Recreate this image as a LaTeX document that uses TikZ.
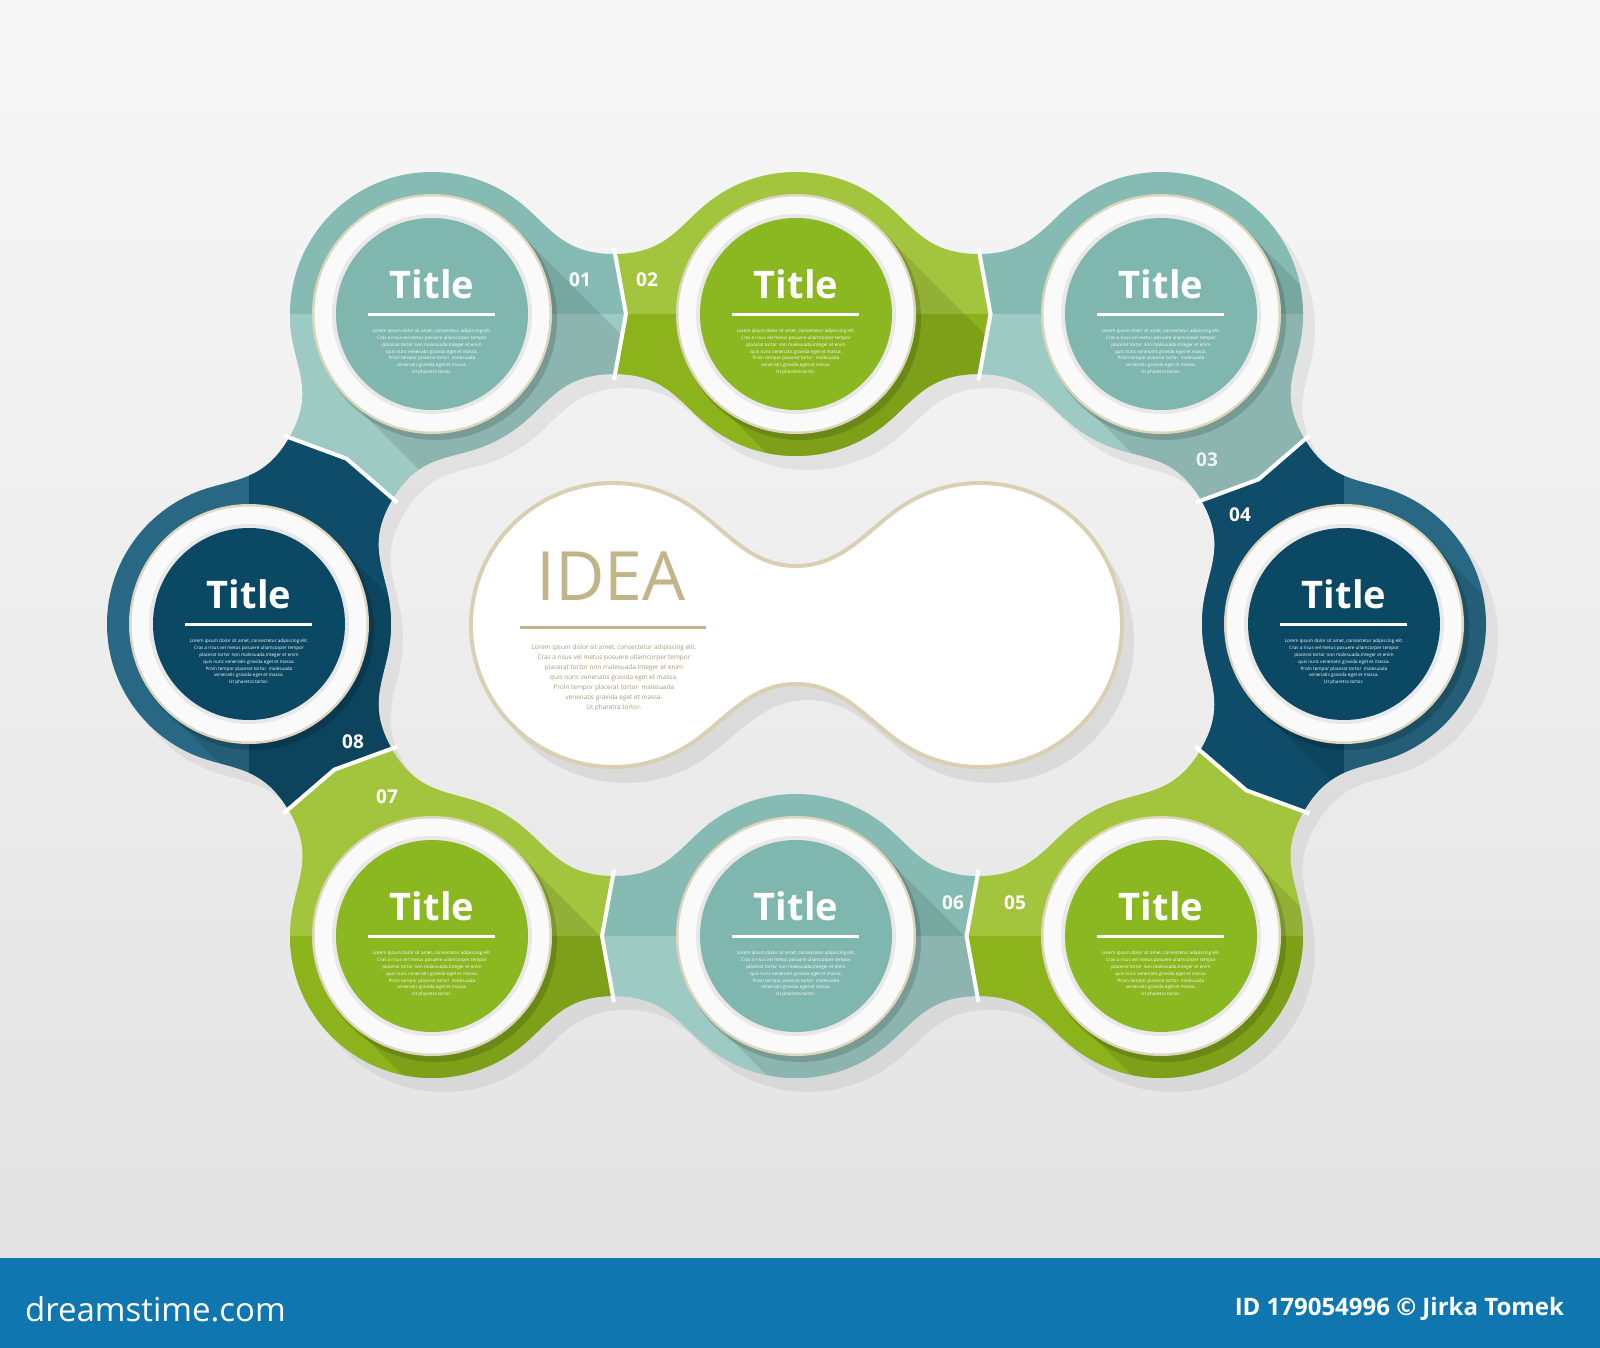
\documentclass[tikz,border=0pt]{standalone}
\usepackage{fontspec}
\setmainfont{Open Sans}
\usetikzlibrary{calc}
\definecolor{tealtop}{HTML}{86BBB3}
\definecolor{tealbot}{HTML}{9DCAC3}
\definecolor{tealdisc}{HTML}{7FB7AE}
\definecolor{greentop}{HTML}{A3C53D}
\definecolor{greenbot}{HTML}{8CB31B}
\definecolor{greendisc}{HTML}{8BB720}
\definecolor{navyout}{HTML}{286884}
\definecolor{navyin}{HTML}{0E4C69}
\definecolor{navydisc}{HTML}{0B4864}
\definecolor{ringedge}{HTML}{DDD5BC}
\definecolor{ideagold}{HTML}{C2B489}
\definecolor{ideaedge}{HTML}{D9D0B4}
\definecolor{barblue}{HTML}{0F76B0}
\newcommand{\rb}{142}
\newcommand{\alp}{50}
\newcommand{\halflink}[4]{($(#1)+(#2-\alp:\rb)$)
  .. controls ($(#1)+(#2-\alp:\rb)+(#2+90-\alp:35)$) and ($(#1)+(#2:#3-50)+(#2-90:60)$) ..
  ($(#1)+(#2:#3)+(#2-90:60)$) -- ($(#1)+(#2:#3+#4)$) -- ($(#1)+(#2:#3)+(#2+90:60)$)
  .. controls ($(#1)+(#2:#3-50)+(#2+90:60)$) and ($(#1)+(#2+\alp:\rb)+(#2-90+\alp:35)$) ..
  ($(#1)+(#2+\alp:\rb)$) -- (#1) -- cycle}
\newcommand{\blobpath}[5]{(#1) circle[radius=\rb] \halflink{#1}{#2}{#3}{12} \halflink{#1}{#4}{#5}{-12}}
\newcommand{\ideapath}{(694.45,-508.7) .. controls (727.2,-531.7) and (751,-566) .. (796,-566)
  .. controls (841,-566) and (865.8,-531.7) .. (898.55,-508.7)
  arc[start angle=125, end angle=-125, radius=142]
  .. controls (865.8,-718.3) and (841,-684) .. (796,-684)
  .. controls (751,-684) and (727.2,-718.3) .. (694.45,-741.3)
  arc[start angle=-55, end angle=-305, radius=142] -- cycle}
\newcommand{\loremtext}{Lorem ipsum dolor sit amet, consectetur adipiscing elit.\\
  Cras a risus vel metus posuere ullamcorper tempor\\
  placerat tortor non malesuada.Integer et enim\\
  quis nunc venenatis gravida eget et massa.\\
  Proin tempor placerat tortor \ malesuada\\
  venenatis gravida eget et massa.\\
  Ut pharetra tortor.}

\begin{document}
\begin{tikzpicture}[x=0.5pt,y=0.5pt,
  ttl/.style={text=white,font=\bfseries\fontsize{19}{19}\selectfont},
  lorem/.style={text=white,align=center,font=\fontsize{2.3}{3.4}\selectfont},
  num/.style={text=white,font=\bfseries\fontsize{9.5}{9.5}\selectfont},
  gap/.style={white,line width=2pt,line join=miter}]
\useasboundingbox (0,0) rectangle (1600,-1348);
\shade[top color=white!97!black,bottom color=white!89!black] (0,0) rectangle (1600,-1258);
\fill[barblue] (0,-1258) rectangle (1600,-1348);
\coordinate (n1) at (432,-314);
\coordinate (n2) at (796,-314);
\coordinate (n3) at (1161,-314);
\coordinate (n4) at (1344,-624);
\coordinate (n5) at (1161,-936);
\coordinate (n6) at (796,-936);
\coordinate (n7) at (432,-936);
\coordinate (n8) at (249,-624);
\foreach \n/\ao/\lo/\ai/\li in {n1/0/182/239.44/180,n2/0/182.5/180/182,n3/-59.44/180/180/182.5,
  n4/239.61/180.9/120.56/180,n5/180/182.5/59.61/180.9,n6/180/182/0/182.5,
  n7/120.39/180.9/0/182,n8/59.44/180/-59.61/180.9}
  \fill[black,opacity=.06,transform canvas={shift={(6pt,-7pt)}}] \blobpath{\n}{\ao}{\lo}{\ai}{\li};
\foreach \n/\ao/\lo/\ai/\li/\ca/\cb/\tx/\ty/\ux/\uy in {
  n1/0/182/239.44/180/tealtop/tealbot/-300/0/300/-300,
  n2/0/182.5/180/182/greentop/greenbot/-300/0/300/-300,
  n3/-59.44/180/180/182.5/tealtop/tealbot/-300/0/300/-300,
  n4/239.61/180.9/120.56/180/navyout/navyin/-300/300/0/-300,
  n5/180/182.5/59.61/180.9/greentop/greenbot/-300/0/300/-300,
  n6/180/182/0/182.5/tealtop/tealbot/-300/0/300/-300,
  n7/120.39/180.9/0/182/greentop/greenbot/-300/0/300/-300,
  n8/59.44/180/-59.61/180.9/navyout/navyin/0/300/300/-300}
{
  \fill[\ca] \blobpath{\n}{\ao}{\lo}{\ai}{\li};
  \begin{scope}
    \clip \blobpath{\n}{\ao}{\lo}{\ai}{\li};
    \fill[\cb] ($(\n)+(\tx,\ty)$) rectangle ($(\n)+(\ux,\uy)$);
    \fill[black,opacity=.1] ($(\n)+(45:119)$) -- ($(\n)+(225:119)$) -- ($(\n)+(225:119)+(-45:420)$)
      -- ($(\n)+(45:119)+(-45:420)$) -- cycle;
  \end{scope}
}
\foreach \n/\ao/\lo in {n1/0/182,n2/0/182.5,n3/-59.44/180,n4/239.61/180.9,
  n5/180/182.5,n6/180/182,n7/120.39/180.9,n8/59.44/180}
  \draw[gap] ($(\n)+(\ao:\lo)+(\ao+90:66)$) -- ($(\n)+(\ao:\lo+12)$) -- ($(\n)+(\ao:\lo)+(\ao-90:66)$);
\foreach \n/\cd/\k in {n1/tealdisc/1,n2/greendisc/2,n3/tealdisc/3,n4/navydisc/4,
  n5/greendisc/5,n6/tealdisc/6,n7/greendisc/7,n8/navydisc/8}
{
  \fill[black,opacity=.15] ($(\n)+(4,-5)$) circle[radius=121];
  \fill[ringedge] (\n) circle[radius=120];
  \fill[white!98!black] (\n) circle[radius=117.5];
  \fill[black!9] (\n) circle[radius=100];
  \fill[\cd] (\n) circle[radius=96];
  \node[ttl] (t\k) at ($(\n)+(0,30)$) {Title};
  \draw[white,line width=1.5pt] ($(\n)+(-64,0)$) -- ($(\n)+(63,0)$);
  \node[lorem] (l\k) at ($(\n)+(0,-38)$) {\loremtext};
}
\node[num] (k1) at (580,-280) {01};
\node[num] (k2) at (647,-280) {02};
\node[num,opacity=.85] (k3) at (1207,-460) {03};
\node[num] (k4) at (1240,-515) {04};
\node[num] (k5) at (1015,-903) {05};
\node[num] (k6) at (953,-903) {06};
\node[num] (k7) at (387,-797) {07};
\node[num] (k8) at (353,-742) {08};
\fill[black,opacity=.07,transform canvas={shift={(6pt,-8pt)}}] \ideapath;
\fill[white] \ideapath;
\draw[ideaedge,line width=2pt] \ideapath;
\node[text=ideagold,font=\fontsize{34}{34}\selectfont] (idea) at (611,-576) {IDEA};
\draw[ideagold,line width=1.5pt] (520,-627) -- (706,-627);
\node[text=ideagold!85!black,align=center,font=\fontsize{3.2}{5}\selectfont] (idealorem) at (614,-678) {\loremtext};
\node[anchor=west,text=white,font=\fontsize{16.5}{16.5}\selectfont] (brand) at (18,-1309) {dreamstime.com};
\node[anchor=east,text=white,font=\bfseries\fontsize{12}{12}\selectfont] (credit) at (1571,-1309) {ID 179054996 © Jirka Tomek};
\end{tikzpicture}
\end{document}
